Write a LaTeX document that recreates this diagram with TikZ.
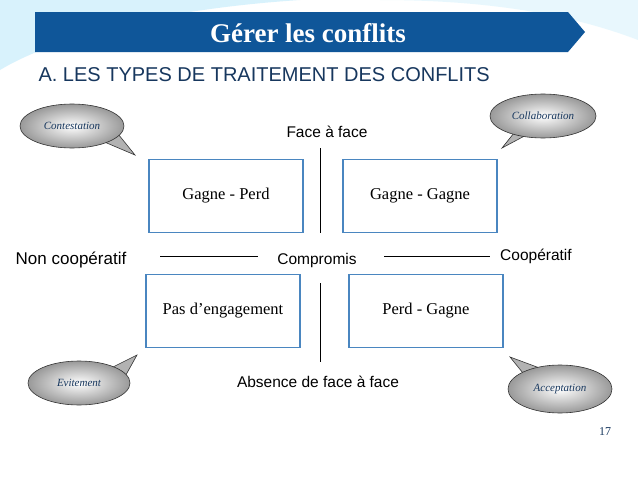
\documentclass[tikz,border=0pt]{standalone}
\usepackage{fontspec}
\setmainfont{Liberation Serif}
\newfontfamily\arial{Liberation Sans}
\usetikzlibrary{shapes.geometric}
\definecolor{banner}{HTML}{0F5699}
\definecolor{boxb}{HTML}{4A86C0}
\definecolor{sub}{HTML}{17375E}
\tikzset{
 quad/.style={draw=boxb,line width=1.2pt,fill=white,minimum width=154pt,minimum height=73pt,font=\fontsize{16.5}{19}\selectfont},
 lab/.style={font=\arial\fontsize{15.5}{18}\selectfont},
 bubble/.style={ellipse,draw=black!80,line width=0.6pt,inner color=white,outer color=black!40,minimum width=104pt,minimum height=44pt,font=\itshape\fontsize{11}{12}\selectfont,text=sub},
 tail/.style={draw=black!80,line width=0.6pt,fill=black!30}
}
\begin{document}
\begin{tikzpicture}[x=1pt,y=-1pt]
\useasboundingbox (0,0) rectangle (638,479);
\fill[white] (0,0) rectangle (638,479);
\fill[cyan!25,opacity=0.6] (0,0) -- (300,0) .. controls (150,10) and (50,40) .. (0,70) -- cycle;
\fill[cyan!15,opacity=0.6] (380,0) -- (638,0) -- (638,40) .. controls (560,10) and (470,0) .. (380,0) -- cycle;
\fill[banner] (35,12) -- (568,12) -- (585,32) -- (568,52) -- (35,52) -- cycle;
\node[text=white,font=\bfseries\fontsize{27}{30}\selectfont] (title) at (308,33) {Gérer les conflits};
\node[anchor=west,text=sub,font=\arial\fontsize{20}{24}\selectfont] (sub) at (35,75) {A. LES TYPES DE TRAITEMENT DES CONFLITS};
\node[quad] (gp) at (226,196) {Gagne - Perd};
\node[quad] (gg) at (420,196) {Gagne - Gagne};
\node[quad] (pe) at (223,311) {Pas d’engagement};
\node[quad] (pg) at (426,311) {Perd - Gagne};
\node[lab] (ff) at (327,132) {Face à face};
\node[lab,font=\arial\fontsize{17}{20}\selectfont] (nc) at (71,260) {Non coopératif};
\node[lab] (cp) at (317,260) {Compromis};
\node[lab] (co) at (536,256) {Coopératif};
\node[lab] (af) at (318,382) {Absence de face à face};
\coordinate (v1) at (320,148); \coordinate (v2) at (320,233);
\coordinate (v3) at (320,283); \coordinate (v4) at (320,362);
\coordinate (h1) at (160,256); \coordinate (h2) at (258,256);
\coordinate (h3) at (384,256); \coordinate (h4) at (490,256);
\draw[line width=0.6pt] (v1) -- (v2) (v3) -- (v4) (h1) -- (h2) (h3) -- (h4);
\coordinate (t1) at (135,155); \coordinate (t2) at (502,148);
\coordinate (t3) at (137,355); \coordinate (t4) at (510,357);
\draw[tail] (95,138) -- (t1) -- (110,124) -- cycle;
\draw[tail] (518,128) -- (t2) -- (532,132) -- cycle;
\draw[tail] (107,370) -- (t3) -- (122,382) -- cycle;
\draw[tail] (527,378) -- (t4) -- (545,370) -- cycle;
\node[bubble] (b1) at (72,126) {Contestation};
\node[bubble,minimum width=106pt] (b2) at (543,116) {Collaboration};
\node[bubble,minimum width=102pt] (b3) at (79,383) {Evitement};
\node[bubble,minimum width=104pt,minimum height=48pt] (b4) at (560,389) {Acceptation};
\node[font=\fontsize{12}{14}\selectfont,text=sub] (pn) at (605,432) {17};
\end{tikzpicture}
\end{document}
